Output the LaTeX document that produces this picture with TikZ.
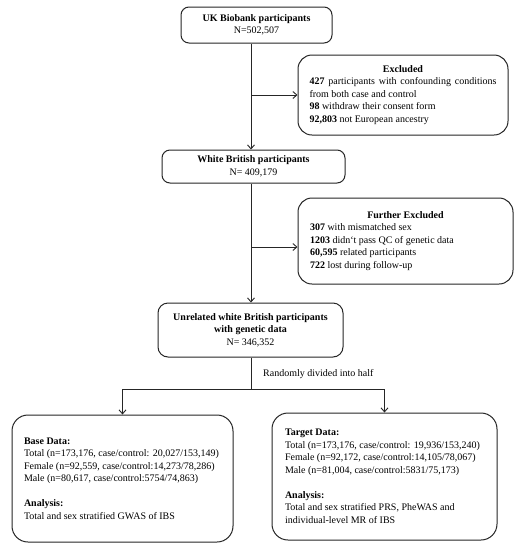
\documentclass[tikz,border=0pt]{standalone}
\usepackage{fontspec}
\setmainfont{Liberation Serif}
\usetikzlibrary{arrows.meta,calc}
\newcommand{\boxfont}{\fontsize{10}{12.5}\selectfont}
\begin{document}
\begin{tikzpicture}[x=1pt,y=1pt,
  box/.style={draw=black!85, line width=1pt, rounded corners=#1, inner sep=0pt, align=center, font=\boxfont},
  box/.default=8pt,
  conn/.style={draw=black!85, line width=0.9pt},
  arr/.style={conn, -{Straight Barb[length=4pt,width=7pt,line width=0.9pt]}},
  lbl/.style={font=\boxfont, inner sep=0pt, anchor=west}
]
\useasboundingbox (0,0) rectangle (524,-550);
\fill[white] (0,0) rectangle (524,-550);
\tolerance=10000
\node[box, minimum width=151pt, minimum height=36pt] (uk) at (256.5,-25)
  {\textbf{UK Biobank participants}\\N=502,507};
\node[box=14pt, minimum width=210pt, minimum height=80pt] (excl) at (403,-95)
  {\parbox{187pt}{\boxfont{\centering\textbf{Excluded}\par}
   \textbf{427} participants with confounding conditions from both case and control\par
   \textbf{98} withdraw their consent form\par
   \textbf{92,803} not European ancestry}};
\node[box, minimum width=183pt, minimum height=33pt] (wb) at (253.5,-166.5)
  {\textbf{White British participants}\\N= 409,179};
\node[box=14pt, minimum width=215pt, minimum height=86pt] (fex) at (405.5,-241)
  {\parbox{191pt}{\boxfont{\centering\textbf{Further Excluded}\par}\raggedright
   \textbf{307} with mismatched sex\par
   \textbf{1203} didn`t pass QC of genetic data\par
   \textbf{60,595} related participants\par
   \textbf{722} lost during follow-up}};
\node[box=10pt, minimum width=185pt, minimum height=54pt] (unr) at (250.5,-330)
  {\textbf{Unrelated white British participants}\\\textbf{with genetic data}\\N= 346,352};
\node[box=16pt, minimum width=221pt, minimum height=127pt] (base) at (122.5,-478.5)
  {\parbox{197pt}{\boxfont\raggedright
   \textbf{Base Data:}\\
   Total (n=173,176, case/control: 20,027/153,149)\\
   Female (n=92,559, case/control:14,273/78,286)\\
   Male (n=80,617, case/control:5754/74,863)\\[12.5pt]
   \textbf{Analysis:}\\
   Total and sex stratified GWAS of IBS}};
\node[box=16pt, minimum width=225pt, minimum height=127pt] (target) at (384.5,-476.5)
  {\parbox{199pt}{\boxfont\raggedright
   \textbf{Target Data:}\\
   Total (n=173,176, case/control: 19,936/153,240)\\
   Female (n=92,172, case/control:14,105/78,067)\\
   Male (n=81,004, case/control:5831/75,173)\\[12.5pt]
   \textbf{Analysis:}\\
   Total and sex stratified PRS, PheWAS and\\
   individual-level MR of IBS}};
\coordinate (spine) at (251,0);
\coordinate (b1) at (251,-95);
\coordinate (b2) at (251,-247);
\coordinate (split) at (251,-389);
\draw[arr] (uk.south -| spine) -- (wb.north -| spine);
\draw[arr] (b1) -- (b1 -| excl.west);
\draw[arr] (wb.south -| spine) -- (unr.north -| spine);
\draw[arr] (b2) -- (b2 -| fex.west);
\draw[conn] (unr.south -| spine) -- (split);
\draw[arr] (split) -| (base.north);
\draw[arr] (split) -| (target.north);
\node[lbl] (rand) at (263,-374) {Randomly divided into half};
\end{tikzpicture}
\end{document}
